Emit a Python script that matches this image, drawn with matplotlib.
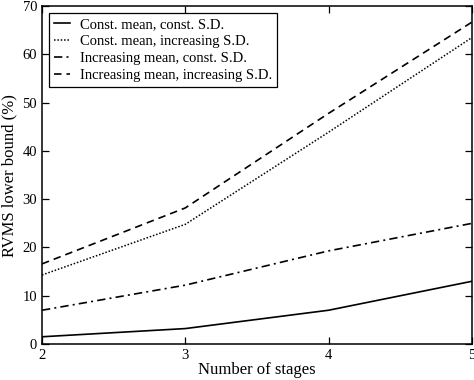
import matplotlib
matplotlib.use("Agg")
import matplotlib.pyplot as plt

stages = [2, 3, 4, 5]
const_mean_const_sd = [1.5, 3.2, 7.0, 13.0]
const_mean_inc_sd = [14.3, 24.8, 43.9, 63.5]
inc_mean_const_sd = [7.0, 12.2, 19.3, 25.0]
inc_mean_inc_sd = [16.6, 28.2, 47.8, 66.7]

labels = ["Const. mean, const. S.D.",
          "Const. mean, increasing S.D.",
          "Increasing mean, const. S.D.",
          "Increasing mean, increasing S.D."]

plt.rcParams["font.family"] = ["Liberation Serif", "DejaVu Serif"]
plt.rcParams["font.size"] = 10.5

fig = plt.figure(figsize=(4.74, 3.8), dpi=100)
ax = fig.add_axes([0.0886, 0.0947, 0.907, 0.889])
ax.plot(stages, const_mean_const_sd, color="black", lw=1.2, ls="-", label=labels[0])
ax.plot(stages, const_mean_inc_sd, color="black", lw=1.1, ls=(0, (1, 1.2)), label=labels[1])
ax.plot(stages, inc_mean_const_sd, color="black", lw=1.2, ls=(0, (5, 2.5, 1.2, 2.5)), label=labels[2])
ax.plot(stages, inc_mean_inc_sd, color="black", lw=1.2, ls=(0, (4.5, 3)), label=labels[3])

ax.set_xlim(2, 5)
ax.set_ylim(0, 70)
ax.set_xticks(stages)
ax.set_yticks(range(0, 71, 10))
ax.tick_params(direction="in", top=True, right=True, length=5, width=0.9,
               labelsize=10.5)
for s in ax.spines.values():
    s.set_linewidth(1.1)
ax.set_xlabel("Number of stages", fontsize=12, labelpad=0)
ax.set_ylabel("RVMS lower bound (%)", fontsize=12, labelpad=4)
leg = ax.legend(loc="upper left", fancybox=False, edgecolor="black",
                framealpha=1, fontsize=10.5, handlelength=1.1, borderpad=0.35,
                labelspacing=0.25, handletextpad=0.7, borderaxespad=0.45)
leg.get_frame().set_linewidth(0.9)

fig.savefig("out.png", dpi=100)
